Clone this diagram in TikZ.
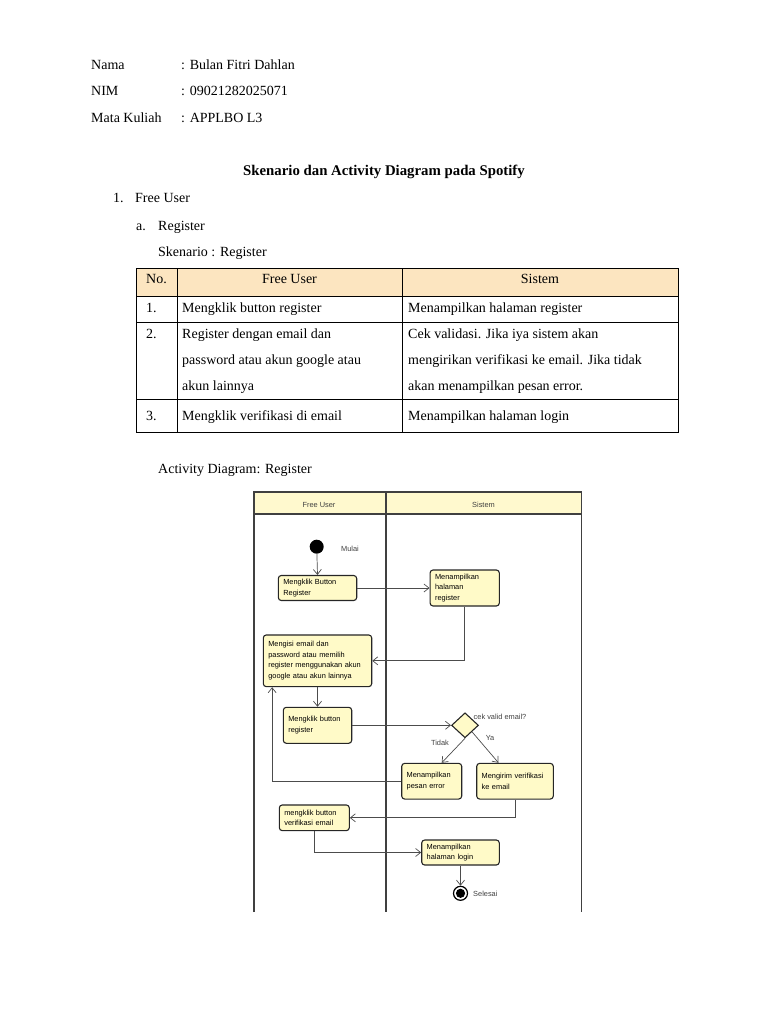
\documentclass[tikz,border=0pt]{standalone}
\usepackage{fontspec}
\setmainfont{Liberation Serif}
\newfontfamily\diagfont{Liberation Sans}
\usetikzlibrary{arrows.meta,calc,shapes.geometric}
\definecolor{nodefill}{RGB}{255,250,200}
\definecolor{headfill}{RGB}{255,249,206}
\definecolor{tabhead}{RGB}{252,229,192}
\begin{document}
\begin{tikzpicture}[x=1pt,y=-1pt,
  font=\fontsize{14}{16}\selectfont,
  txt/.style={anchor=base west, inner sep=0pt},
  ctxt/.style={anchor=base, inner sep=0pt},
  act/.style={draw=black!85, line width=1.1pt, rounded corners=3pt, fill=nodefill,
    font=\diagfont\fontsize{7.4}{10.5}\selectfont, align=left, inner xsep=5pt, inner ysep=0pt},
  dlabel/.style={font=\diagfont\fontsize{7.4}{9}\selectfont, text=black!75, inner sep=0pt},
  conn/.style={draw=black!70, line width=0.7pt, -{Straight Barb[length=5pt,width=8pt]}},
  lane/.style={draw=black!75, line width=1.3pt}
]
\useasboundingbox (0,0) rectangle (768,1024);

% header info
\node[txt] (l1) at (91,69.5) {Nama};
\node[txt] (v1) at (181,69.5) {: Bulan Fitri Dahlan};
\node[txt] (l2) at (91,96) {NIM};
\node[txt] (v2) at (181,96) {: 09021282025071};
\node[txt] (l3) at (91,122.5) {Mata Kuliah};
\node[txt] (v3) at (181,122.5) {: APPLBO L3};

\node[ctxt, font=\fontsize{14.8}{16}\selectfont] (title) at (384,176) {\bfseries Skenario dan Activity Diagram pada Spotify};
\node[txt] (n1) at (113,203) {1.};
\node[txt] (fu) at (135,203) {Free User};
\node[txt] (na) at (136,230) {a.};
\node[txt] (reg) at (158,230) {Register};
\node[txt] (sk) at (158,256) {Skenario : Register};

% table
\fill[tabhead] (136,268) rectangle (678,296);
\draw[line width=0.8pt] (136,268) rectangle (678,432);
\draw[line width=0.8pt] (136,296) -- (678,296);
\draw[line width=0.8pt] (136,322) -- (678,322);
\draw[line width=0.8pt] (136,399) -- (678,399);
\draw[line width=0.8pt] (177,268) -- (177,432);
\draw[line width=0.8pt] (402,268) -- (402,432);

\node[ctxt] (h1) at (156.5,283) {No.};
\node[ctxt] (h2) at (289.5,283) {Free User};
\node[ctxt] (h3) at (540,283) {Sistem};

\node[txt] (r1a) at (146,312) {1.};
\node[txt] (r1b) at (182,312) {Mengklik button register};
\node[txt] (r1c) at (408,312) {Menampilkan halaman register};
\node[txt] (r2a) at (146,338) {2.};
\node[txt] (r2b) at (182,338) {Register dengan email dan};
\node[txt] (r2b2) at (182,364) {password atau akun google atau};
\node[txt] (r2b3) at (182,390) {akun lainnya};
\node[txt] (r2c) at (408,338) {Cek validasi. Jika iya sistem akan};
\node[txt] (r2c2) at (408,364) {mengirikan verifikasi ke email. Jika tidak};
\node[txt] (r2c3) at (408,390) {akan menampilkan pesan error.};
\node[txt] (r3a) at (146,420) {3.};
\node[txt] (r3b) at (182,420) {Mengklik verifikasi di email};
\node[txt] (r3c) at (408,420) {Menampilkan halaman login};

\node[txt] (adt) at (158,473) {Activity Diagram: Register};

% swimlanes
\fill[headfill] (254,492) rectangle (581.7,514);
\draw[lane] (254,912) -- (254,492) -- (581.7,492) -- (581.7,912);
\draw[lane] (254,514) -- (581.7,514);
\draw[lane] (386,492) -- (386,912);
\node[dlabel] (lh1) at (319,504.5) {Free User};
\node[dlabel] (lh2) at (483.5,504.5) {Sistem};

% nodes
\node[circle, fill=black, minimum size=14pt, inner sep=0pt] (start) at (316.7,546.7) {};
\node[dlabel, anchor=west] (mulai) at (341,549) {Mulai};

\node[act, text width=68.4pt, minimum height=25pt] (b1) at (317.5,588) {Mengklik Button\\Register};
\node[act, text width=59.3pt, minimum height=36pt] (b2) at (464.7,588) {Menampilkan\\halaman\\register};
\node[act, text width=98.4pt, minimum height=51.7pt] (b3) at (317.5,660.8) {Mengisi email dan\\password atau memilih\\register menggunakan akun\\google atau akun lainnya};
\node[act, text width=58.4pt, minimum height=36pt] (b4) at (317.5,725.3) {Mengklik button\\register};
\node[diamond, draw=black!85, line width=1.1pt, fill=nodefill, minimum width=27pt, minimum height=25pt, inner sep=0pt] (d) at (465,725.3) {};
\node[dlabel, anchor=west] (cek) at (473.5,716.5) {cek valid email?};
\node[dlabel] (tidak) at (440,742.5) {Tidak};
\node[dlabel] (ya) at (490,737.5) {Ya};
\node[act, text width=50pt, minimum height=35.7pt] (b5) at (431.7,781.2) {Menampilkan\\pesan error};
\node[act, text width=66.6pt, minimum height=35.7pt] (b6) at (515,781.2) {Mengirim verifikasi\\ke email};
\node[act, text width=60pt, minimum height=25.7pt] (b7) at (314.3,817.8) {mengklik button\\verifikasi email};
\node[act, text width=67.6pt, minimum height=25pt] (b8) at (460.5,852.5) {Menampilkan\\halaman login};
\node[circle, draw=black, line width=1.2pt, fill=white, minimum size=14pt, inner sep=0pt] (end) at (460.5,893.3) {};
\fill[black] (end.center) circle (4.6pt);
\node[dlabel, anchor=west] (selesai) at (473,894) {Selesai};

\coordinate (tb5) at ($(b5.north)+(10,0)$);
\coordinate (tb6) at ($(b6.north)+(-16.5,0)$);
\coordinate (ub3) at ($(b3.south west)+(9.4,0)$);

% connectors
\draw[conn] (start) -- (b1.north);
\draw[conn] (b1.east) -- (b2.west);
\draw[conn] (b2.south) |- (b3.east);
\draw[conn] (b3.south) -- (b4.north);
\draw[conn] (b4.east) -- (d.west);
\draw[conn] (d.south) -- (tb5);
\draw[conn] (d.south east) -- (tb6);
\draw[conn] (b5.west) -| (ub3);
\draw[conn] (b6.south) |- (b7.east);
\draw[conn] (b7.south) |- (b8.west);
\draw[conn] (b8.south) -- (end.north);
\end{tikzpicture}
\end{document}
